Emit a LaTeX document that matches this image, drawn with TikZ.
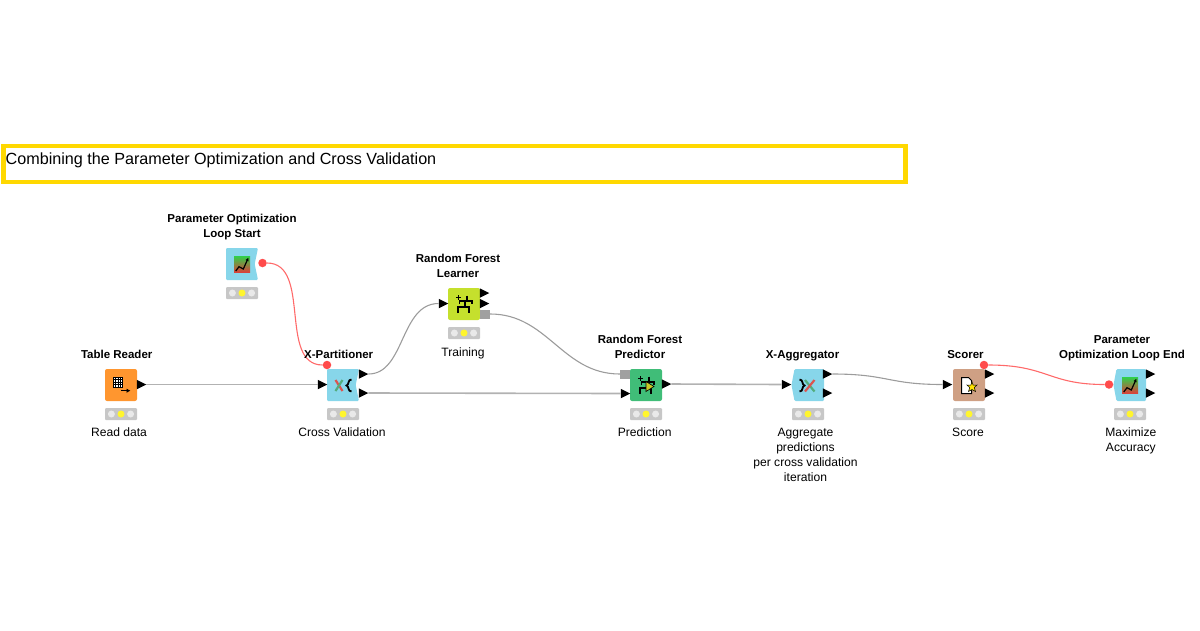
\documentclass[tikz,border=0pt]{standalone}
\usepackage{fontspec}
\setmainfont{Liberation Sans}
\usetikzlibrary{arrows.meta}
\definecolor{frameyellow}{HTML}{FFD800}
\definecolor{kblue}{HTML}{87D6EA}
\definecolor{korange}{HTML}{FF962F}
\definecolor{klime}{HTML}{C5E02D}
\definecolor{kgreen}{HTML}{40BD78}
\definecolor{kbrown}{HTML}{CFA084}
\definecolor{kport}{HTML}{A0A0A0}
\definecolor{kline}{HTML}{9C9C9C}
\definecolor{kstraight}{HTML}{B2B2B2}
\definecolor{kred}{HTML}{FF4B4B}
\definecolor{kredline}{HTML}{FF6A6A}
\definecolor{ksred}{HTML}{DB5550}
\definecolor{ksgreen}{HTML}{53AD7E}
\definecolor{lampyellow}{HTML}{FFF52E}
\definecolor{lampgrey}{HTML}{E9E9E9}
\definecolor{loopgreen}{HTML}{2FD04A}
\definecolor{loopred}{HTML}{D8433A}
\definecolor{triyellow}{HTML}{C9C826}
\tikzset{
  box/.style={minimum size=32pt,inner sep=0pt,rounded corners=2pt,fill=#1},
  srcbox/.style={minimum size=32pt,inner sep=0pt,path picture={
    \fill[kblue,rounded corners=1.2pt] (-16,-16) -- (16,-16) -- (12.7,0) -- (16,16) -- (-16,16) -- cycle;}},
  sinkbox/.style={minimum size=33pt,inner sep=0pt,path picture={
    \fill[kblue,rounded corners=1.2pt] (-13.5,-16) -- (16,-16) -- (16,16) -- (-13.5,16) -- (-16.5,0) -- cycle;}},
  tri/.style={minimum size=9.5pt,inner sep=0pt,path picture={
    \fill[black] (path picture bounding box.north west) -- (path picture bounding box.east) -- (path picture bounding box.south west) -- cycle;}},
  greyport/.style={minimum width=10pt,minimum height=9pt,inner sep=0pt,fill=kport},
  redport/.style={circle,minimum size=8.5pt,inner sep=0pt,fill=kred},
  statusbar/.style={minimum width=32pt,minimum height=12pt,inner sep=0pt,rounded corners=1pt,fill=black!22},
  lamp/.style={circle,minimum size=7pt,inner sep=0pt,fill=#1},
  titlelabel/.style={font=\fontsize{11.5}{15}\selectfont\bfseries,align=center,inner sep=0pt,anchor=base},
  notelabel/.style={font=\fontsize{12.1}{15}\selectfont,align=center,inner sep=0pt,anchor=base},
  conn/.style={draw=kline,line width=1.1pt},
  straightconn/.style={draw=kstraight,line width=1.6pt},
  redconn/.style={draw=kredline,line width=1.1pt},
}
\newcommand{\statuslights}[3]{%
  \node[statusbar] (#1) at (#2,#3) {};
  \node[lamp=lampgrey] (#1-a) at (#2-9.6,#3) {};
  \node[lamp=lampyellow] (#1-b) at (#2,#3) {};
  \node[lamp=lampgrey] (#1-c) at (#2+9.6,#3) {};
}
\newcommand{\loopglyph}{%
  \shade[top color=loopgreen,bottom color=loopred] (-8,-8) rectangle (8,8);
  \draw[line width=1.2pt,-{Latex[length=3.5pt,width=3.5pt]}] (-6.3,7) -- (-3,2.7) -- (1.3,5) -- (6.5,-6.5);
}
\newcommand{\treeglyph}{%
  \draw[line width=1.3pt] (-8,-6.5) -- (-3,-6.5) (-5.5,-9) -- (-5.5,-4);
  \draw[line width=1.4pt] (3,-8.5) -- (3,-3) (-4.5,0) -- (-4.5,-3) -- (8,-3) -- (8,0)
     (1,-3) -- (1,3) (-6,9) -- (-6,3) -- (5,3) -- (5,9);
}
\begin{document}
\begin{tikzpicture}[x=1pt,y=-1pt]
\useasboundingbox (0,0) rectangle (1200,630);
\node[draw=frameyellow,line width=4.6pt,minimum width=902.5pt,minimum height=36pt,inner sep=0pt] (frame) at (454.5,164) {};
\node[font=\fontsize{16.15}{19}\selectfont,anchor=base west,inner sep=0pt] (title) at (5.5,164) {Combining the Parameter Optimization and Cross Validation};

% Node bodies
\node[box=korange] (reader) at (121,385) {};
\node[srcbox] (pstart) at (242,264) {};
\node[srcbox] (part) at (343,385) {};
\node[box=klime] (learner) at (464,304) {};
\node[box=kgreen] (pred) at (646,385) {};
\node[sinkbox] (agg) at (808,385) {};
\node[box=kbrown] (scorer) at (969,385) {};
\node[sinkbox] (pend) at (1130,385) {};

% Ports
\node[tri] (reader-o) at (141.5,384.5) {};
\node[redport] (pstart-v) at (262.5,263) {};
\node[redport] (part-v) at (327,365) {};
\node[tri] (part-i) at (322.5,384.5) {};
\node[tri] (part-o1) at (363.5,374) {};
\node[tri] (part-o2) at (363.5,393) {};
\node[tri] (learner-i) at (443.5,303.5) {};
\node[tri] (learner-o1) at (484.5,293) {};
\node[tri] (learner-o2) at (484.5,303.5) {};
\node[greyport] (learner-m) at (485,314) {};
\node[greyport] (pred-m) at (625,374) {};
\node[tri] (pred-i) at (625.5,393.5) {};
\node[tri] (pred-o) at (666.5,384) {};
\node[tri] (agg-i) at (786.5,384.5) {};
\node[tri] (agg-o1) at (827.5,374) {};
\node[tri] (agg-o2) at (827.5,393) {};
\node[tri] (scorer-i) at (947.5,384.5) {};
\node[redport] (scorer-v) at (984,365) {};
\node[tri] (scorer-o1) at (989.5,374) {};
\node[tri] (scorer-o2) at (989.5,393) {};
\node[redport] (pend-v) at (1109,384.5) {};
\node[tri] (pend-o1) at (1150.5,374) {};
\node[tri] (pend-o2) at (1150.5,393) {};

% Connectors
\draw[straightconn] (reader-o.east) -- (part-i.west);
\draw[conn] (part-o1.east) .. controls (405,374) and (400,303.5) .. (learner-i.west);
\draw[straightconn] (part-o2.east) -- (pred-i.west);
\draw[conn] (learner-m.east) .. controls (548,314) and (562,374) .. (pred-m.west);
\draw[straightconn] (pred-o.east) -- (agg-i.west);
\draw[conn] (agg-o1.east) .. controls (888,374) and (888,384.5) .. (scorer-i.west);
\draw[redconn] (pstart-v.east) .. controls (312,263) and (278,365) .. (part-v.west);
\draw[redconn] (scorer-v.east) .. controls (1048,365) and (1048,384.5) .. (pend-v.west);

% Status lights
\statuslights{reader-s}{121}{414}
\statuslights{pstart-s}{242}{293}
\statuslights{part-s}{343}{414}
\statuslights{learner-s}{464}{333}
\statuslights{pred-s}{646}{414}
\statuslights{agg-s}{808}{414}
\statuslights{scorer-s}{969}{414}
\statuslights{pend-s}{1130}{414}

% Icons
\begin{scope}[shift={(reader.center)}]
  \fill[white] (-8,-8) rectangle (1.5,2);
  \draw[line width=.6pt] (-8,-8) -- (1.5,-8) (-8,-5.5) -- (1.5,-5.5) (-8,-3) -- (1.5,-3) (-8,-.5) -- (1.5,-.5) (-8,2) -- (1.5,2)
     (-8,-8) -- (-8,2) (-5.6,-8) -- (-5.6,2) (-3.2,-8) -- (-3.2,2) (-.8,-8) -- (-.8,2) (1.5,-8) -- (1.5,2);
  \draw[line width=1.3pt,-{Latex[length=4pt,width=4.5pt]}] (0,5.7) -- (9.5,5.7);
\end{scope}
\begin{scope}[shift={(pstart.center)}] \loopglyph \end{scope}
\begin{scope}[shift={(pend.center)}] \loopglyph \end{scope}
\begin{scope}[shift={(part.center)}]
  \draw[ksred,line width=2.2pt] (-7.5,-5) -- (-0.5,6);
  \draw[ksgreen,line width=2.2pt] (-0.5,-5) -- (-7.5,6);
  \draw[line width=1.8pt] (8.5,-5.5) .. controls (4.5,-5.5) and (6.5,-.5) .. (3.5,.5) .. controls (6.5,1.5) and (4.5,6.5) .. (8.5,6.5);
\end{scope}
\begin{scope}[shift={(learner.center)}] \treeglyph \end{scope}
\begin{scope}[shift={(pred.center)}]
  \treeglyph
  \fill[triyellow,draw=black,line width=.6pt] (0,-3.5) -- (8,1.5) -- (0,6.5) -- cycle;
\end{scope}
\begin{scope}[shift={(agg.center)}]
  \draw[line width=1.8pt] (-8.5,-5.5) .. controls (-4.5,-5.5) and (-6.5,-.5) .. (-3.5,.5) .. controls (-6.5,1.5) and (-4.5,6.5) .. (-8.5,6.5);
  \draw[ksgreen,line width=2.2pt] (-3,-5) -- (6.5,6.5);
  \draw[ksred,line width=2.2pt] (6.5,-5) -- (-3,6.5);
\end{scope}
\begin{scope}[shift={(scorer.center)}]
  \fill[white,draw=black,line width=1pt] (-7.5,-7.5) -- (-.5,-7.5) -- (2.5,-4.5) -- (2.5,8.5) -- (-7.5,8.5) -- cycle;
  \fill[yellow!85!orange,draw=black,line width=.5pt] (3,-3) -- (4.2,.2) -- (8,0) -- (5.3,2.5) -- (6.5,6.5) -- (3,4.5) -- (-.5,6.5) -- (.7,2.5) -- (-2,0) -- (1.8,.2) -- cycle;
\end{scope}

% Labels
\node[titlelabel] (pstart-t) at (232,237) {Parameter Optimization\\Loop Start};
\node[titlelabel] (reader-t) at (116.7,358) {Table Reader};
\node[titlelabel] (part-t) at (338.7,358) {X-Partitioner};
\node[titlelabel] (learner-t) at (458,277) {Random Forest\\Learner};
\node[titlelabel] (pred-t) at (640,358) {Random Forest\\Predictor};
\node[titlelabel] (agg-t) at (802.5,358) {X-Aggregator};
\node[titlelabel] (scorer-t) at (965.5,358) {Scorer};
\node[titlelabel] (pend-t) at (1122,358) {Parameter\\Optimization Loop End};
\node[notelabel] (reader-n) at (119,436.5) {Read data};
\node[notelabel] (part-n) at (342,436.5) {Cross Validation};
\node[notelabel] (learner-n) at (463,356.5) {Training};
\node[notelabel] (pred-n) at (644.7,436.5) {Prediction};
\node[notelabel] (agg-n) at (805.5,481.5) {Aggregate\\predictions\\per cross validation\\iteration};
\node[notelabel] (scorer-n) at (968,436.5) {Score};
\node[notelabel] (pend-n) at (1130.8,451.5) {Maximize\\Accuracy};
\end{tikzpicture}
\end{document}
